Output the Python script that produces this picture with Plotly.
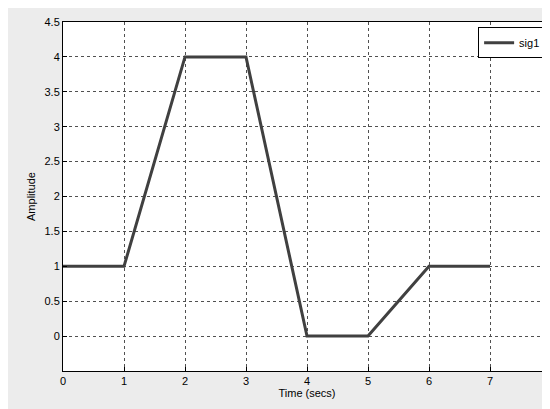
import plotly.graph_objects as go

time_s = [0, 1, 2, 3, 4, 5, 6, 7]
amplitude = [1, 1, 4, 4, 0, 0, 1, 1]
y_ticks = [0, 0.5, 1, 1.5, 2, 2.5, 3, 3.5, 4, 4.5]
y_labels = ["0", "0.5", "1", "1.5", "2", "2.5", "3", "3.5", "4", "4.5"]

fig = go.Figure()
fig.add_trace(go.Scatter(x=time_s, y=amplitude, mode="lines", name="sig1",
                         line=dict(color="#404040", width=3), showlegend=True))

axis_style = dict(showline=True, linecolor="black", linewidth=1, mirror=True,
                  showgrid=True, gridcolor="#505050", griddash="dot", gridwidth=1,
                  ticks="inside", ticklen=4, tickcolor="black", zeroline=False,
                  automargin=False,
                  tickfont=dict(family="Arial", size=11, color="black"))

fig.update_xaxes(range=[0, 8], dtick=1, title=dict(text="Time (secs)", standoff=2,
                 font=dict(family="Arial", size=11, color="black")), **axis_style)
fig.update_yaxes(range=[-0.5, 4.5], tickvals=y_ticks, ticktext=y_labels,
                 title=dict(text="Amplitude", standoff=6,
                            font=dict(family="Arial", size=11, color="black")), **axis_style)

fig.update_layout(width=550, height=409, paper_bgcolor="#ececec", plot_bgcolor="white",
                  margin=dict(l=55, r=7, t=14, b=46),
                  legend=dict(x=0.99, y=0.985, xanchor="right", yanchor="top",
                              bgcolor="white", bordercolor="black", borderwidth=1,
                              font=dict(family="Arial", size=11, color="black")))
fig.write_html("out.html")
